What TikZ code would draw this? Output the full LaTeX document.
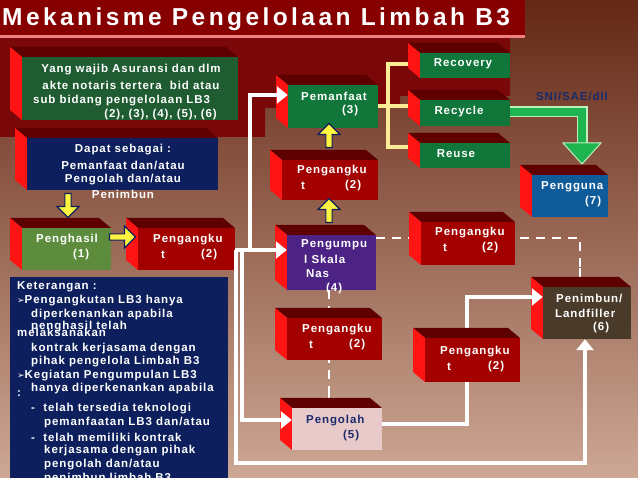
\documentclass[tikz,border=0pt]{standalone}
\usepackage{fontspec}
\setmainfont{Liberation Sans}[LetterSpace=8]
\newfontfamily\ttlfont{Liberation Sans}[LetterSpace=14]
\newfontfamily\dejavu{DejaVu Sans}
\usetikzlibrary{fit,arrows.meta,shapes.arrows}
\definecolor{topc}{HTML}{5E0000}
\definecolor{sidec}{HTML}{FF1414}
\definecolor{bxred}{HTML}{A30000}
\definecolor{bxgreen}{HTML}{11763A}
\definecolor{bxnavy}{HTML}{0D1F5C}
\definecolor{bxpurple}{HTML}{4C2384}
\definecolor{bxblue}{HTML}{0F5B9A}
\definecolor{bxpink}{HTML}{E9CACB}
\definecolor{bxbrown}{HTML}{4A3A2A}
\definecolor{bxleaf}{HTML}{5C8C3C}
\definecolor{bxmoss}{HTML}{1F5C32}
\definecolor{txnavy}{HTML}{1A2A6A}
\definecolor{bgtop}{RGB}{100,40,22}
\definecolor{bgbot}{RGB}{205,168,148}
\definecolor{bgred}{RGB}{122,8,8}
\definecolor{ttlred}{RGB}{135,0,0}
\definecolor{ttlpink}{RGB}{240,128,128}
\definecolor{brk}{RGB}{250,236,150}
\definecolor{garr}{RGB}{30,180,80}
\definecolor{garrl}{RGB}{190,240,190}
\newcommand\bx[6]{%
  \fill[topc] (#2,#3)--(#2-12,#3-10)--(#4-12,#3-10)--(#4,#3)--cycle;
  \fill[sidec] (#2,#3)--(#2-12,#3-10)--(#2-12,#5-10)--(#2,#5)--cycle;
  \coordinate (#1a) at (#2,#3); \coordinate (#1b) at (#4,#5);
  \node[fit=(#1a)(#1b),inner sep=0,fill=#6] (#1) {};}
\newcommand\tl[5][west]{\node[txt,anchor=#1] (#2) at (#3,#4) {#5};}
\tikzset{txt/.style={text=white,inner sep=0,font=\bfseries\fontsize{11.5}{13}\selectfont},
  wline/.style={white,line width=4.5pt},
  warr/.style={-{Triangle[width=17pt,length=11pt]}},
  dsh/.style={white,line width=2.5pt,dash pattern=on 9pt off 7pt},
  yarr/.style={single arrow,fill=yellow!75,draw=bxnavy,line width=1.2pt,minimum height=24pt,minimum width=22pt,single arrow head extend=4pt,inner sep=1pt}}
\begin{document}
\begin{tikzpicture}[x=1pt,y=-1pt]
\useasboundingbox (0,0) rectangle (638,478);
\shade[top color=bgtop,bottom color=bgbot] (0,0) rectangle (638,478);
\fill[bgred] (0,37)--(510,37)--(510,96)--(400,96)--(400,108)--(265,108)--(265,137)--(0,137)--cycle;
\fill[ttlred] (0,0) rectangle (525,35);
\fill[ttlpink] (0,35) rectangle (525,38);
\node[anchor=west,text=white,inner sep=0,font=\ttlfont\bfseries\fontsize{24.5}{27}\selectfont] (title) at (2,19) {Mekanisme Pengelolaan Limbah B3};
% connectors behind boxes
\coordinate (j1) at (250,250); \coordinate (j2) at (250,95);
\coordinate (j3) at (242,250); \coordinate (j4) at (242,420);
\coordinate (j5) at (236,250); \coordinate (j6) at (236,463); \coordinate (j7) at (585,463);
\draw[dsh] (376,238) -- (580,238) -- (580,270);
\draw[-{Straight Barb[length=5pt,width=10pt]},white,line width=1.5pt] (580,268) -- (580,284);
\draw[dsh] (329,290) -- (329,392);
\draw[-{Straight Barb[length=5pt,width=10pt]},white,line width=1.5pt] (329,390) -- (329,404);
\draw[wline] (382,424) -- (467,424) -- (467,297) -- (520,297);
\draw[wline,brk] (420,64) -- (388,64) -- (388,147) -- (420,147) (388,106) -- (420,106) (378,106) -- (388,106);
\draw[line width=11pt,garrl] (510,112) -- (582,112) -- (582,146);
\draw[line width=8pt,garr] (510,112) -- (582,112) -- (582,146);
\filldraw[fill=garr,draw=garrl,line width=1pt] (563,143)--(601,143)--(582,164)--cycle;
\node[text=txnavy,font=\bfseries\fontsize{11.5}{13}\selectfont,inner sep=0] (sni) at (572,96) {SNI/SAE/dll};
% boxes
\bx{asr}{22}{57}{238}{120}{bxmoss}
\bx{dpt}{27}{138}{218}{190}{bxnavy}
\bx{phs}{22}{228}{111}{270}{bxleaf}
\bx{pa}{138}{228}{235}{270}{bxred}
\bx{pmf}{288}{85}{378}{128}{bxgreen}
\bx{pb}{282}{160}{378}{200}{bxred}
\bx{pgp}{287}{235}{376}{290}{bxpurple}
\bx{pc}{287}{318}{382}{360}{bxred}
\bx{pgl}{292}{408}{382}{450}{bxpink}
\bx{rcv}{420}{53}{510}{78}{bxgreen}
\bx{rcy}{420}{100}{510}{126}{bxgreen}
\bx{rus}{420}{143}{510}{168}{bxgreen}
\bx{pgn}{532}{175}{608}{217}{bxblue}
\bx{pd}{421}{222}{515}{265}{bxred}
\bx{pnb}{543}{287}{631}{339}{bxbrown}
\bx{pe}{425}{338}{520}{382}{bxred}
\fill[bxnavy] (10,277) rectangle (228,478);
% white arrows
\draw[wline,warr] (pa.east|-j1) -- (j1) -- (j2) -- (pmf.west|-j2);
\draw[wline,warr] (j1) -- (pgp.west|-j1);
\draw[wline,warr] (j3) -- (j4) -- (pgl.west|-j4);
\draw[wline,warr] (j5) -- (j6) -- (j7) -- (pnb.south-|j7);
\draw[wline,warr] (467,297) -- (pnb.west|-0,297);
% yellow arrows
\node[yarr,rotate=-90] (y1) at (68,204) {};
\node[yarr,rotate=0,minimum height=26pt] (y2) at (121,237) {};
\node[yarr,rotate=90] (y3) at (329,212) {};
\node[yarr,rotate=90] (y4) at (329,137) {};
% texts
\tl[center]{t1}{131}{70}{Yang wajib Asuransi dan dlm}
\tl[center]{t2}{131}{85}{akte notaris tertera\ \ bid atau}
\tl{t3}{33}{101}{sub bidang pengelolaan LB3}
\tl[east]{t4}{217}{115}{(2), (3), (4), (5), (6)}
\tl[center]{t5}{123}{150}{Dapat sebagai :}
\tl[center]{t6}{123}{165}{Pemanfaat dan/atau}
\tl[center]{t7}{123}{180}{Pengolah dan/atau}
\tl[center]{t8}{123}{194}{Penimbun}
\tl{t9}{36}{240}{Penghasil}\tl{t10}{73}{255}{(1)}
\tl{t11}{153}{240}{Pengangku}\tl{t12}{161}{255}{t}\tl{t13}{201}{255}{(2)}
\tl{t14}{301}{96}{Pemanfaat}\tl{t15}{342}{111}{(3)}
\tl{t16}{297}{171}{Pengangku}\tl{t17}{301}{186}{t}\tl{t18}{345}{186}{(2)}
\tl{t19}{301}{245}{Pengumpu}\tl{t20}{304}{259}{l Skala}\tl{t21}{306}{274}{Nas}\tl{t22}{326}{289}{(4)}
\tl{t23}{302}{330}{Pengangku}\tl{t24}{309}{345}{t}\tl{t25}{349}{345}{(2)}
\node[txt,text=txnavy,anchor=west] (t26) at (306,421) {Pengolah};
\node[txt,text=txnavy,anchor=west] (t27) at (343,436) {(5)};
\tl[center]{t28}{463}{64}{Recovery}\tl[center]{t29}{459}{112}{Recycle}\tl[center]{t30}{456}{154}{Reuse}
\tl{t31}{541}{187}{Pengguna}\tl{t32}{585}{202}{(7)}
\tl{t33}{435}{233}{Pengangku}\tl{t34}{443}{248}{t}\tl{t35}{482}{248}{(2)}
\tl{t36}{556}{298}{Penimbun/}\tl{t37}{555}{313}{Landfiller}\tl{t38}{593}{328}{(6)}
\tl{t39}{440}{352}{Pengangku}\tl{t40}{447}{367}{t}\tl{t41}{488}{367}{(2)}
% keterangan
\tl{k1}{17}{287}{Keterangan :}
\tl{k2}{17}{301}{{\dejavu\fontsize{9}{10}\selectfont ➢}Pengangkutan LB3 hanya}
\tl{k3}{31}{315}{diperkenankan apabila}
\tl{k4}{31}{327}{penghasil telah}
\tl{k5}{17}{332}{melaksanakan}
\tl{k6}{31}{349}{kontrak kerjasama dengan}
\tl{k7}{31}{362}{pihak pengelola Limbah B3}
\tl{k8}{17}{376}{{\dejavu\fontsize{9}{10}\selectfont ➢}Kegiatan Pengumpulan LB3}
\tl{k9}{17}{394}{:}
\tl{k10}{31}{389}{hanya diperkenankan apabila}
\tl{k11}{31}{409}{-\ \ telah tersedia teknologi}
\tl{k12}{44}{423}{pemanfaatan LB3 dan/atau}
\tl{k13}{31}{437}{-\ \ telah memiliki kontrak}
\tl{k14}{44}{451}{kerjasama dengan pihak}
\tl{k15}{44}{465}{pengolah dan/atau}
\tl{k16}{44}{479}{penimbun limbah B3}
\end{tikzpicture}
\end{document}
